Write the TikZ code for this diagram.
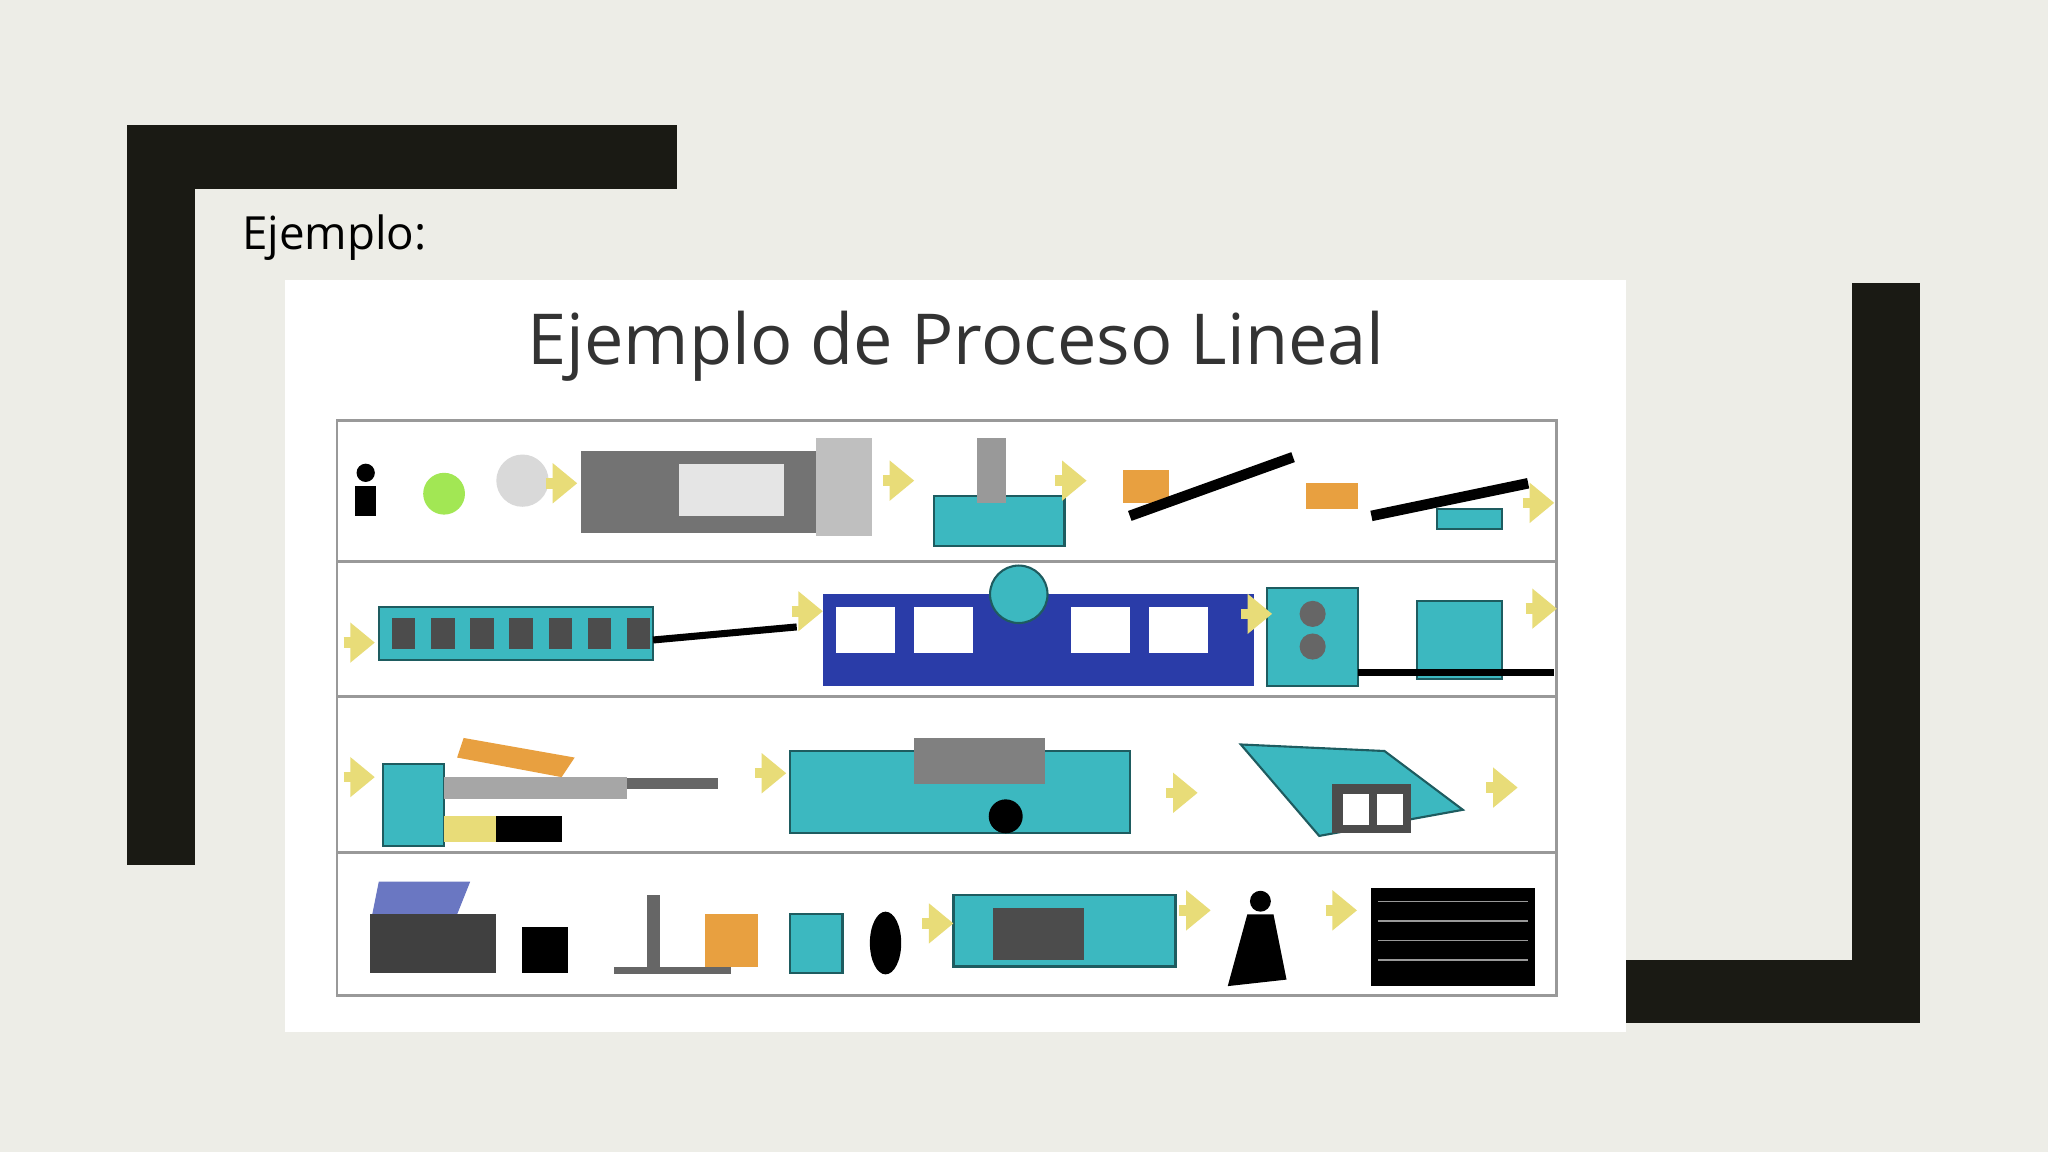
\documentclass[tikz,border=0pt]{standalone}
\usepackage{fontspec}
\setmainfont{Open Sans}
\usetikzlibrary{arrows.meta, positioning}
\definecolor{slidebg}{HTML}{EDEDE7}
\definecolor{barblk}{HTML}{1A1A14}
\definecolor{teal1}{HTML}{3CB8C0}
\definecolor{blue1}{HTML}{2A3CA8}
\definecolor{yel1}{HTML}{E8DC78}
\definecolor{org1}{HTML}{E8A040}
\definecolor{titlegray}{HTML}{333333}
\tikzset{
  bar/.style={fill=barblk},
  mach/.style={fill=teal1, draw=teal1!50!black, line width=0.6pt},
  dark/.style={fill=black!80},
  yarr/.style={draw=yel1, line width=3pt, -{Triangle[length=7pt,width=11pt]}},
}
\newcommand{\yarrow}[2]{\draw[yarr] (#1-12,#2) -- (#1+12,#2);}
\begin{document}
\begin{tikzpicture}[x=0.01306cm, y=-0.01306cm]
\useasboundingbox (0,0) rectangle (1568,882);
\fill[slidebg] (0,0) rectangle (1568,882);
% black corner bars
\fill[bar] (97,96) rectangle (518,145);
\fill[bar] (97,96) rectangle (149,662);
\fill[bar] (1418,217) rectangle (1470,783);
\fill[bar] (1245,735) rectangle (1470,783);
\node[anchor=west, font=\fontsize{13pt}{15pt}\selectfont] (lbl) at (176,182) {Ejemplo:};
% picture
\fill[white] (218,214) rectangle (1245,790);
\node[text=titlegray, font=\fontsize{20pt}{22pt}\selectfont] (title) at (732,265) {Ejemplo de Proceso Lineal};
\draw[black!40, line width=0.8pt] (258,322) rectangle (1192,762);
\foreach \yy in {430,533,653} \draw[black!40, line width=0.8pt] (258,\yy) -- (1192,\yy);
% row 1
\fill[black] (280,362) circle (7);
\fill[black] (272,372) rectangle (288,395);
\fill[yel1!70!green] (340,378) circle (16);
\fill[black!15] (400,368) circle (20);
\fill[black!55] (445,345) rectangle (625,408);
\fill[black!10] (520,355) rectangle (600,395);
\fill[black!25] (625,335) rectangle (668,410);
\fill[mach] (715,380) rectangle (815,418);
\fill[black!40] (748,335) rectangle (770,385);
\fill[org1] (860,360) rectangle (895,385);
\draw[black, line width=3pt] (865,395) -- (990,350);
\fill[org1] (1000,370) rectangle (1040,390);
\draw[black, line width=3pt] (1050,395) -- (1170,370);
\fill[mach] (1100,390) rectangle (1150,405);
\yarrow{430}{370} \yarrow{688}{368} \yarrow{820}{368} \yarrow{1178}{385}
% row 2
\fill[mach] (290,465) rectangle (500,505);
\foreach \xx in {300,330,...,480} \fill[black!70] (\xx,473) rectangle (\xx+18,497);
\draw[black, line width=2pt] (500,490) -- (610,480);
\fill[blue1] (630,455) rectangle (960,525);
\foreach \xx in {640,700,820,880} \fill[white] (\xx,465) rectangle (\xx+45,500);
\fill[mach] (780,455) circle (22);
\fill[mach] (970,450) rectangle (1040,525);
\foreach \yy in {470,495} \fill[black!60] (1005,\yy) circle (10);
\fill[mach] (1085,460) rectangle (1150,520);
\draw[black, line width=2pt] (1040,515) -- (1190,515);
\yarrow{275}{492} \yarrow{618}{468} \yarrow{962}{470} \yarrow{1180}{466}
% row 3
\fill[mach] (293,585) rectangle (340,648);
\fill[black!35] (340,595) rectangle (480,612);
\fill[yel1] (340,625) rectangle (380,645);
\fill[black] (380,625) rectangle (430,645);
\fill[org1] (355,565) -- (440,580) -- (430,595) -- (350,580) -- cycle;
\draw[black!60, line width=3pt] (480,600) -- (550,600);
\fill[mach] (605,575) rectangle (865,638);
\fill[black!50] (700,565) rectangle (800,600);
\fill[black] (770,625) circle (13);
\fill[mach] (950,570) -- (1060,575) -- (1120,620) -- (1010,640) -- cycle;
\fill[black!70] (1020,600) rectangle (1080,638);
\fill[white] (1028,608) rectangle (1048,632);
\fill[white] (1054,608) rectangle (1074,632);
\yarrow{275}{595} \yarrow{590}{592} \yarrow{905}{607} \yarrow{1150}{603}
% row 4
\fill[blue1!70] (290,675) -- (360,675) -- (350,700) -- (285,700) -- cycle;
\fill[black!75] (283,700) rectangle (380,745);
\fill[black] (400,710) rectangle (435,745);
\fill[black!60] (470,740) rectangle (560,746);
\fill[black!60] (495,685) rectangle (505,740);
\fill[org1] (540,700) rectangle (580,740);
\fill[mach] (605,700) rectangle (645,745);
\fill[black] (678,722) ellipse (12 and 24);
\fill[mach] (730,685) rectangle (900,740);
\fill[black!70] (760,695) rectangle (830,735);
\fill[black] (965,690) circle (8);
\fill[black] (955,700) -- (975,700) -- (985,750) -- (940,755) -- cycle;
\fill[black] (1050,680) rectangle (1175,755);
\foreach \yy in {690,705,720,735} \draw[black!40] (1055,\yy) -- (1170,\yy);
\yarrow{718}{707} \yarrow{915}{697} \yarrow{1027}{697}
\end{tikzpicture}
\end{document}
